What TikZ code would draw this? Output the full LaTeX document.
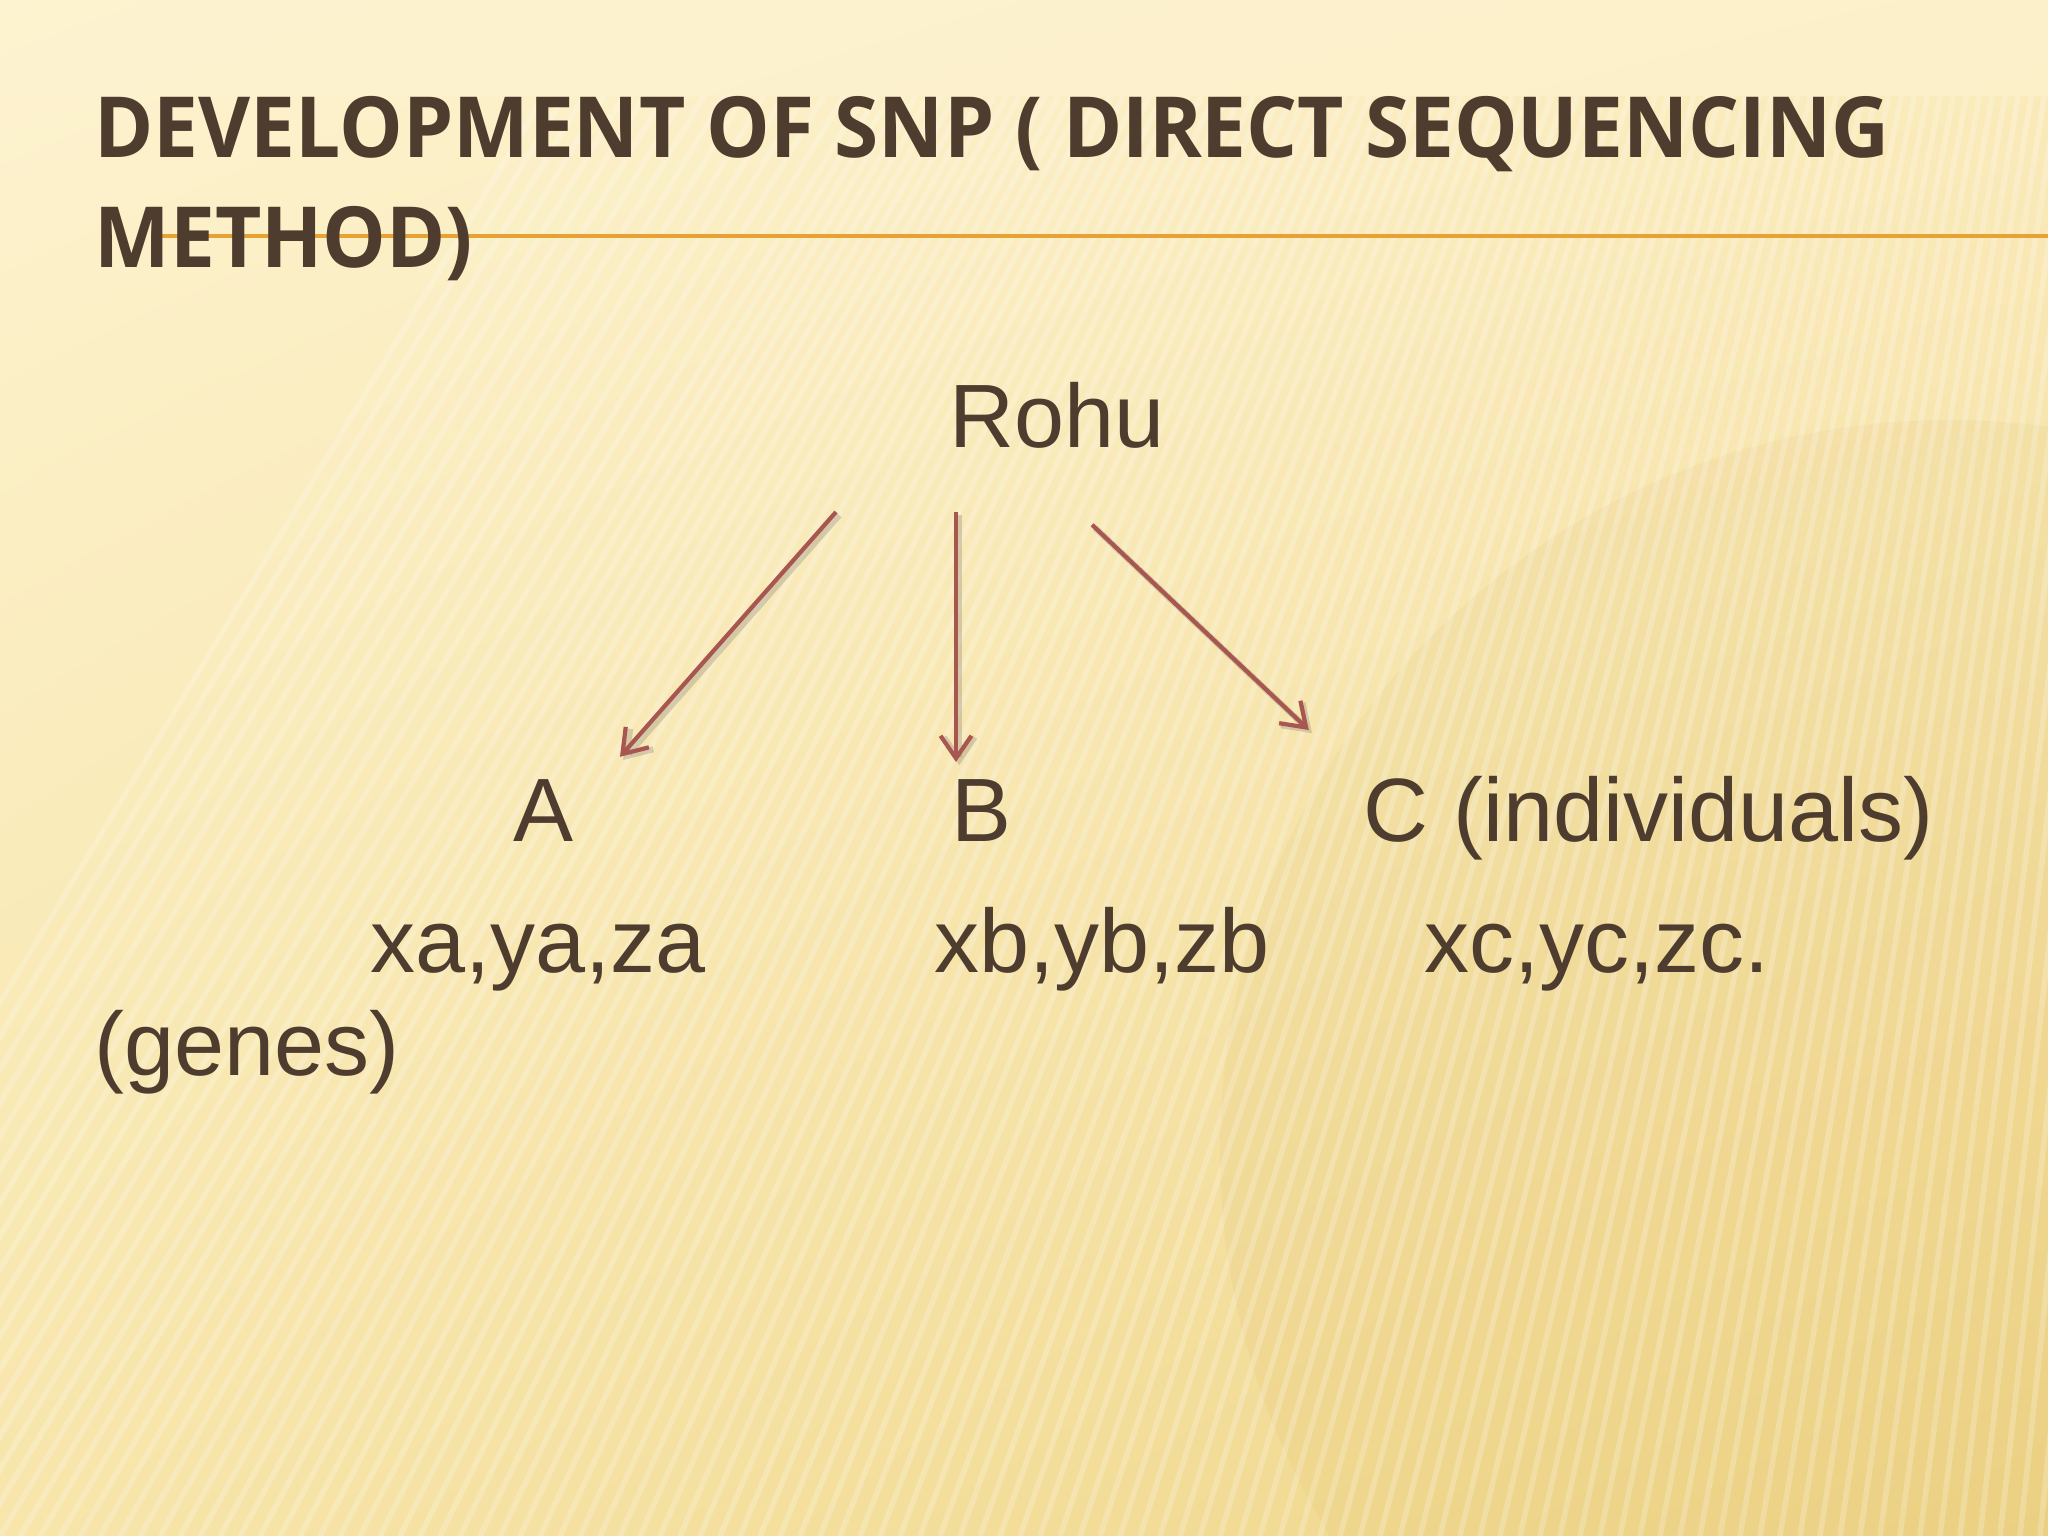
\documentclass[tikz,border=0pt]{standalone}
\usepackage{fontspec}
\setmainfont{Liberation Sans}
\newfontfamily\titlefont{Open Sans}
\usepackage{xcolor}
\usetikzlibrary{arrows.meta,shadings}
\definecolor{textbrown}{RGB}{78,60,46}
\definecolor{arrowred}{RGB}{168,86,80}
\definecolor{ruleorange}{RGB}{232,162,52}
\definecolor{bgtl}{RGB}{253,243,208}
\definecolor{bgtr}{RGB}{251,236,190}
\definecolor{bgbl}{RGB}{247,229,170}
\definecolor{bgbr}{RGB}{238,212,135}
\definecolor{discgold}{RGB}{214,180,90}

\tikzset{
  titletext/.style={inner sep=0pt, anchor=base west, text=textbrown, font=\titlefont\bfseries\fontsize{30}{36}\selectfont},
  bodytext/.style={inner sep=0pt, anchor=base west, text=textbrown, font=\fontsize{32}{38}\selectfont},
  branch/.style={arrowred, line width=1.5pt, -{Straight Barb[length=8pt,width=11pt]}},
  branchshadow/.style={black!60, opacity=0.25, line width=2.2pt, -{Straight Barb[length=8pt,width=11pt]}}
}

\begin{document}
\begin{tikzpicture}
            % Background
            \useasboundingbox (0,0) rectangle (25.6,19.2);
            \shade[upper left=bgtl, upper right=bgtr, lower left=bgbl, lower right=bgbr] (0,0) rectangle (25.6,19.2);
            \fill[discgold, opacity=0.1] (24.375,4.825) circle (9.125);
            \foreach \x in {-4,-3.75,...,26} {
                \draw[white, opacity=0.22, line width=2pt] (\x,0) -- ({\x+(0.6-0.5*max(\x,0)/25.6)*18},18);
            }
            \fill[bgtl, opacity=0.7] (0,18) rectangle (25.6,19.2);

            % Title
            \draw[ruleorange, line width=1.4pt] (2.0,16.25) -- (25.6,16.25);
            \node[titletext] (title1) at (1.175,17.225) {\scalebox{0.95}[1]{DEVELOPMENT OF SNP ( DIRECT SEQUENCING}};
            \node[titletext] (title2) at (1.175,15.86) {\scalebox{0.95}[1]{METHOD)}};

            % Tree
            \node[bodytext] (rohu) at (11.86,13.6) {Rohu};
            \node[bodytext] (indA) at (6.41,8.675) {A};
            \node[bodytext] (indB) at (11.89,8.675) {B};
            \node[bodytext] (indC) at (17.04,8.675) {C (individuals)};
            \node[bodytext] (genA) at (4.625,7.04) {xa,ya,za};
            \node[bodytext] (genB) at (11.675,7.04) {xb,yb,zb};
            \node[bodytext] (genC) at (17.8,7.04) {xc,yc,zc.};
            \node[bodytext] (genes) at (1.175,5.76) {(genes)};

            % Arrow ends
            \coordinate (tailA) at (10.45,12.8);
            \coordinate (tailB) at (11.95,12.8);
            \coordinate (tailC) at (13.65,12.64);
            \coordinate (tipA) at (7.75,9.74);
            \coordinate (tipB) at (11.95,9.675);
            \coordinate (tipC) at (16.36,10.075);

            % Connections
            \foreach \k in {A,B,C} {
                \draw[branchshadow, transform canvas={shift={(0.04,-0.04)}}] (tail\k) -- (tip\k);
                \draw[branch] (tail\k) -- (tip\k);
            }
        \end{tikzpicture}
\end{document}
